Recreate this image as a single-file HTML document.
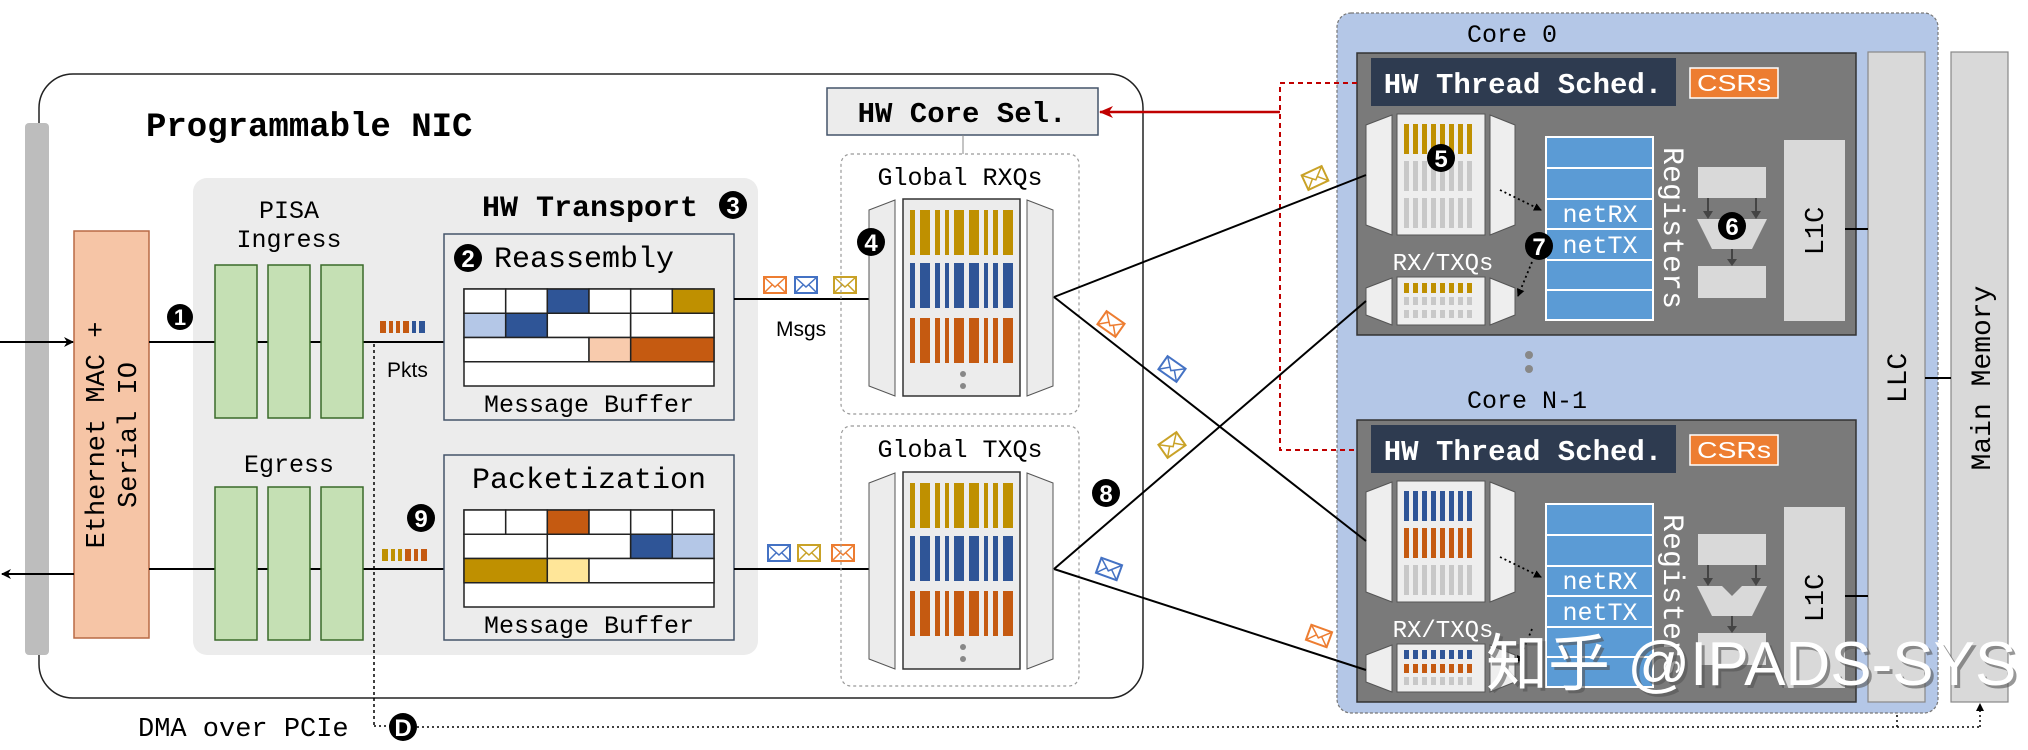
<!DOCTYPE html>
<html><head><meta charset="utf-8"><style>
html,body{margin:0;padding:0;background:#fff;}
svg{display:block;}
.m{font-family:"Liberation Mono",monospace;}
.s{font-family:"Liberation Sans",sans-serif;}
</style></head><body>
<svg width="2028" height="750" viewBox="0 0 2028 750" xmlns="http://www.w3.org/2000/svg">
<defs>
<marker id="ah" markerWidth="10" markerHeight="10" refX="9" refY="5" orient="auto" markerUnits="userSpaceOnUse"><path d="M0,0 L10,5 L0,10 L3,5 Z" fill="#000"/></marker>
<marker id="ar" markerWidth="14" markerHeight="12" refX="13" refY="6" orient="auto" markerUnits="userSpaceOnUse"><path d="M0,0 L14,6 L0,12 L4,6 Z" fill="#c00000"/></marker>
<marker id="as" markerWidth="8" markerHeight="8" refX="7" refY="4" orient="auto" markerUnits="userSpaceOnUse"><path d="M0,0 L8,4 L0,8 Z" fill="#000"/></marker>
<g id="env"><rect x="-11" y="-8" width="22" height="16" fill="#fff" stroke-width="2"/><path d="M-11,-8 L0,2 L11,-8 M-11,8 L-3,0 M11,8 L3,0" fill="none" stroke-width="1.5"/></g>
<g id="stripes"><rect x="910" y="0" width="5" height="45"/><rect x="920" y="0" width="10" height="45"/><rect x="935" y="0" width="5" height="45"/><rect x="945" y="0" width="4" height="45"/><rect x="954" y="0" width="10" height="45"/><rect x="969" y="0" width="10" height="45"/><rect x="984" y="0" width="4" height="45"/><rect x="993" y="0" width="5" height="45"/><rect x="1003" y="0" width="10" height="45"/></g>
<g id="gq">
<path d="M869,210 L895,200 L895,396 L869,386 Z" fill="#ececec" stroke="#555" stroke-width="1"/>
<path d="M1027,200 L1053,210 L1053,386 L1027,396 Z" fill="#ececec" stroke="#555" stroke-width="1"/>
<rect x="903" y="199" width="117" height="197" fill="#ececec" stroke="#333" stroke-width="1.5"/>
</g>
<pattern id="pg" width="9" height="10" patternUnits="userSpaceOnUse"><rect width="5" height="10" fill="#bf9000"/></pattern>
<pattern id="pb" width="9" height="10" patternUnits="userSpaceOnUse"><rect width="5" height="10" fill="#2f5597"/></pattern>
<pattern id="po" width="9" height="10" patternUnits="userSpaceOnUse"><rect width="5" height="10" fill="#c55a11"/></pattern>
<pattern id="pc" width="9" height="10" patternUnits="userSpaceOnUse"><rect width="5" height="10" fill="#c8c8c8"/></pattern>
</defs>

<!-- NIC outer -->
<rect x="39" y="74" width="1104" height="624" rx="34" fill="#fff" stroke="#222" stroke-width="1.5"/>
<rect x="25" y="123" width="24" height="532" rx="4" fill="#bdbdbd"/>
<text x="146" y="136" class="m" font-size="34" font-weight="bold">Programmable NIC</text>

<rect x="193" y="178" width="565" height="477" rx="14" fill="#ececec"/>
<text x="482" y="216" class="m" font-size="30" font-weight="bold">HW Transport</text>
<circle cx="733" cy="205" r="14" fill="#000"/><text x="733" y="214" class="s" font-size="24" font-weight="bold" fill="#fff" text-anchor="middle">3</text>

<rect x="74" y="231" width="75" height="407" fill="#f6c5a6" stroke="#b86a45" stroke-width="1.5"/>
<text transform="translate(104,435) rotate(-90)" class="m" font-size="27" text-anchor="middle">Ethernet MAC +</text>
<text transform="translate(136,435) rotate(-90)" class="m" font-size="27" text-anchor="middle">Serial IO</text>
<line x1="0" y1="342" x2="73" y2="342" stroke="#000" stroke-width="2" marker-end="url(#ah)"/>
<line x1="74" y1="574" x2="2" y2="574" stroke="#000" stroke-width="2" marker-end="url(#ah)"/>
<circle cx="180" cy="317" r="13" fill="#000"/><text x="180" y="325" class="s" font-size="22" font-weight="bold" fill="#fff" text-anchor="middle">1</text>

<line x1="149" y1="342" x2="444" y2="342" stroke="#000" stroke-width="2"/>
<line x1="149" y1="569" x2="444" y2="569" stroke="#000" stroke-width="2"/>

<text x="289" y="218" class="m" font-size="25" text-anchor="middle">PISA</text>
<text x="289" y="247" class="m" font-size="25" text-anchor="middle">Ingress</text>
<text x="289" y="472" class="m" font-size="25" text-anchor="middle">Egress</text>
<g fill="#c5e0b4" stroke="#3a6a2a" stroke-width="1.5">
<rect x="215" y="265" width="42" height="153"/><rect x="268" y="265" width="42" height="153"/><rect x="321" y="265" width="42" height="153"/>
<rect x="215" y="487" width="42" height="153"/><rect x="268" y="487" width="42" height="153"/><rect x="321" y="487" width="42" height="153"/>
</g>

<g><rect x="380" y="321" width="6" height="12" fill="#c55a11"/><rect x="389" y="321" width="4" height="12" fill="#c55a11"/><rect x="396" y="321" width="4" height="12" fill="#c55a11"/><rect x="403" y="321" width="6" height="12" fill="#c55a11"/><rect x="412" y="321" width="4" height="12" fill="#2f5597"/><rect x="419" y="321" width="6" height="12" fill="#2f5597"/></g>
<g><rect x="382" y="549" width="6" height="12" fill="#bf9000"/><rect x="391" y="549" width="4" height="12" fill="#bf9000"/><rect x="398" y="549" width="4" height="12" fill="#bf9000"/><rect x="405" y="549" width="6" height="12" fill="#c55a11"/><rect x="414" y="549" width="4" height="12" fill="#c55a11"/><rect x="421" y="549" width="6" height="12" fill="#c55a11"/></g>
<text x="387" y="377" class="s" font-size="21">Pkts</text>
<circle cx="421" cy="518" r="14" fill="#000"/><text x="421" y="527" class="s" font-size="24" font-weight="bold" fill="#fff" text-anchor="middle">9</text>

<line x1="374" y1="344" x2="374" y2="726" stroke="#000" stroke-width="1.5" stroke-dasharray="3,3"/>
<line x1="374" y1="726" x2="390" y2="726" stroke="#000" stroke-width="1.5" stroke-dasharray="2,3"/>
<text x="138" y="736" class="m" font-size="27">DMA over PCIe</text>
<circle cx="403" cy="727" r="14" fill="#000"/><text x="403" y="736" class="s" font-size="24" font-weight="bold" fill="#fff" text-anchor="middle">D</text>
<path d="M417,727 L1980,727" stroke="#000" stroke-width="1.5" stroke-dasharray="2,3" fill="none"/>
<line x1="1897" y1="727" x2="1897" y2="704" stroke="#000" stroke-width="1.5" stroke-dasharray="2,3" marker-end="url(#as)"/>
<line x1="1980" y1="727" x2="1980" y2="704" stroke="#000" stroke-width="1.5" stroke-dasharray="2,3" marker-end="url(#as)"/>

<rect x="444" y="234" width="290" height="186" fill="#ececec" stroke="#44546a" stroke-width="1.5"/>
<circle cx="468" cy="258" r="14" fill="#000"/><text x="468" y="267" class="s" font-size="24" font-weight="bold" fill="#fff" text-anchor="middle">2</text>
<text x="494" y="267" class="m" font-size="30">Reassembly</text>
<g stroke="#222" stroke-width="1.5">
<rect x="464" y="289" width="250" height="97" fill="#fff"/>
<rect x="464" y="289" width="41.7" height="24.25" fill="#fff"/><rect x="505.7" y="289" width="41.7" height="24.25" fill="#fff"/><rect x="547.3" y="289" width="41.7" height="24.25" fill="#2f5597"/><rect x="589" y="289" width="41.7" height="24.25" fill="#fff"/><rect x="630.7" y="289" width="41.7" height="24.25" fill="#fff"/><rect x="672.3" y="289" width="41.7" height="24.25" fill="#bf9000"/>
<rect x="464" y="313.25" width="41.7" height="24.25" fill="#b4c7e7"/><rect x="505.7" y="313.25" width="41.7" height="24.25" fill="#2f5597"/><rect x="547.3" y="313.25" width="83.3" height="24.25" fill="#fff"/><rect x="630.7" y="313.25" width="83.3" height="24.25" fill="#fff"/>
<rect x="464" y="337.5" width="125" height="24.25" fill="#fff"/><rect x="589" y="337.5" width="41.7" height="24.25" fill="#f8cbad"/><rect x="630.7" y="337.5" width="83.3" height="24.25" fill="#c55a11"/>
</g>
<text x="589" y="412" class="m" font-size="25" text-anchor="middle">Message Buffer</text>

<rect x="444" y="455" width="290" height="185" fill="#ececec" stroke="#44546a" stroke-width="1.5"/>
<text x="589" y="488" class="m" font-size="30" text-anchor="middle">Packetization</text>
<g stroke="#222" stroke-width="1.5">
<rect x="464" y="510" width="250" height="97" fill="#fff"/>
<rect x="464" y="510" width="41.7" height="24.25" fill="#fff"/><rect x="505.7" y="510" width="41.7" height="24.25" fill="#fff"/><rect x="547.3" y="510" width="41.7" height="24.25" fill="#c55a11"/><rect x="589" y="510" width="41.7" height="24.25" fill="#fff"/><rect x="630.7" y="510" width="41.7" height="24.25" fill="#fff"/><rect x="672.3" y="510" width="41.7" height="24.25" fill="#fff"/>
<rect x="464" y="534.25" width="83.3" height="24.25" fill="#fff"/><rect x="547.3" y="534.25" width="83.3" height="24.25" fill="#fff"/><rect x="630.7" y="534.25" width="41.7" height="24.25" fill="#2f5597"/><rect x="672.3" y="534.25" width="41.7" height="24.25" fill="#b4c7e7"/>
<rect x="464" y="558.5" width="83.3" height="24.25" fill="#bf9000"/><rect x="547.3" y="558.5" width="41.7" height="24.25" fill="#ffe699"/><rect x="589" y="558.5" width="125" height="24.25" fill="#fff"/>
</g>
<text x="589" y="633" class="m" font-size="25" text-anchor="middle">Message Buffer</text>

<line x1="734" y1="299" x2="870" y2="299" stroke="#000" stroke-width="2"/>
<line x1="734" y1="569" x2="870" y2="569" stroke="#000" stroke-width="2"/>
<use href="#env" x="775" y="285" stroke="#ed7d31"/><use href="#env" x="806" y="285" stroke="#4472c4"/><use href="#env" x="845" y="285" stroke="#c9a227"/>
<use href="#env" x="779" y="553" stroke="#4472c4"/><use href="#env" x="809" y="553" stroke="#c9a227"/><use href="#env" x="843" y="553" stroke="#ed7d31"/>
<text x="776" y="336" class="s" font-size="21">Msgs</text>

<rect x="827" y="88" width="271" height="47" fill="#ececec" stroke="#44546a" stroke-width="1.5"/>
<text x="962" y="122" class="m" font-size="29" font-weight="bold" text-anchor="middle">HW Core Sel.</text>
<line x1="963" y1="135" x2="963" y2="154" stroke="#888" stroke-width="1"/>

<rect x="841" y="154" width="238" height="260" rx="10" fill="none" stroke="#999" stroke-width="1.2" stroke-dasharray="3,3"/>
<rect x="841" y="426" width="238" height="260" rx="10" fill="none" stroke="#999" stroke-width="1.2" stroke-dasharray="3,3"/>
<text x="960" y="185" class="m" font-size="25" text-anchor="middle">Global RXQs</text>
<text x="960" y="457" class="m" font-size="25" text-anchor="middle">Global TXQs</text>
<use href="#gq"/>
<use href="#stripes" y="210" fill="#bf9000"/><use href="#stripes" y="263" fill="#2f5597"/><use href="#stripes" y="318" fill="#c55a11"/>
<circle cx="963" cy="374" r="3" fill="#888"/><circle cx="963" cy="386" r="3" fill="#888"/>
<use href="#gq" y="273"/>
<use href="#stripes" y="483" fill="#bf9000"/><use href="#stripes" y="536" fill="#2f5597"/><use href="#stripes" y="591" fill="#c55a11"/>
<circle cx="963" cy="647" r="3" fill="#888"/><circle cx="963" cy="659" r="3" fill="#888"/>
<circle cx="871" cy="242" r="14" fill="#000"/><text x="871" y="251" class="s" font-size="24" font-weight="bold" fill="#fff" text-anchor="middle">4</text>
<circle cx="1106" cy="493" r="14" fill="#000"/><text x="1106" y="502" class="s" font-size="24" font-weight="bold" fill="#fff" text-anchor="middle">8</text>

<rect x="1337" y="13" width="601" height="700" rx="14" fill="#b4c7e7" stroke="#777" stroke-width="1.2" stroke-dasharray="3,2"/>
<text x="1467" y="42" class="m" font-size="25">Core 0</text>
<text x="1467" y="408" class="m" font-size="25">Core N-1</text>
<circle cx="1529" cy="355" r="4" fill="#888"/><circle cx="1529" cy="369" r="4" fill="#888"/>

<rect x="1868" y="52" width="57" height="650" fill="#d9d9d9" stroke="#888" stroke-width="1.2"/>
<rect x="1951" y="52" width="57" height="650" fill="#d9d9d9" stroke="#888" stroke-width="1.2"/>
<text transform="translate(1906,378) rotate(-90)" class="m" font-size="28" text-anchor="middle">LLC</text>
<text transform="translate(1990,378) rotate(-90)" class="m" font-size="28" text-anchor="middle">Main Memory</text>
<line x1="1925" y1="378" x2="1951" y2="378" stroke="#000" stroke-width="2"/>

<g id="core">
<rect x="1357" y="53" width="499" height="282" fill="#7a7a7a" stroke="#333" stroke-width="1.5"/>
<rect x="1371" y="58" width="305" height="48" fill="#2e3b50"/>
<text x="1523" y="93" class="m" font-size="29" font-weight="bold" fill="#fff" text-anchor="middle">HW Thread Sched.</text>
<rect x="1690" y="68" width="88" height="30" fill="#ed7d31" stroke="#fff" stroke-width="1.5"/>
<text x="1734" y="91" class="s" font-size="23" fill="#fff" text-anchor="middle" textLength="74" lengthAdjust="spacingAndGlyphs">CSRs</text>
<path d="M1366,125 L1392,115 L1392,235 L1366,225 Z" fill="#eee" stroke="#555" stroke-width="1"/>
<rect x="1397" y="114" width="88" height="121" fill="#eee" stroke="#555" stroke-width="1"/>
<path d="M1490,115 L1515,125 L1515,225 L1490,235 Z" fill="#eee" stroke="#555" stroke-width="1"/>
<path d="M1366,288 L1392,278 L1392,325 L1366,315 Z" fill="#eee" stroke="#555" stroke-width="1"/>
<rect x="1397" y="277" width="88" height="48" fill="#eee" stroke="#555" stroke-width="1"/>
<path d="M1490,278 L1515,288 L1515,315 L1490,325 Z" fill="#eee" stroke="#555" stroke-width="1"/>
<text x="1443" y="270" class="m" font-size="24" fill="#fff" text-anchor="middle">RX/TXQs</text>
<g fill="#5b9bd5" stroke="#fff" stroke-width="2">
<rect x="1546" y="137" width="107" height="31"/><rect x="1546" y="168" width="107" height="31"/><rect x="1546" y="199" width="107" height="30"/><rect x="1546" y="229" width="107" height="31"/><rect x="1546" y="260" width="107" height="30"/><rect x="1546" y="290" width="107" height="30"/>
</g>
<text x="1600" y="222" class="m" font-size="25" fill="#fff" text-anchor="middle">netRX</text>
<text x="1600" y="253" class="m" font-size="25" fill="#fff" text-anchor="middle">netTX</text>
<text transform="translate(1664,228) rotate(90)" class="m" font-size="30" fill="#fff" text-anchor="middle">Registers</text>
<rect x="1698" y="167" width="68" height="31" fill="#d9d9d9"/>
<rect x="1698" y="266" width="68" height="32" fill="#d9d9d9"/>
<rect x="1784" y="140" width="61" height="181" fill="#d9d9d9"/>
<text transform="translate(1823,231) rotate(-90)" class="m" font-size="27" text-anchor="middle">L1C</text>
<line x1="1845" y1="229" x2="1868" y2="229" stroke="#000" stroke-width="2"/>
<line x1="1500" y1="190" x2="1541" y2="210" stroke="#000" stroke-width="1.8" stroke-dasharray="2,3" marker-end="url(#as)"/>
<line x1="1532" y1="262" x2="1518" y2="296" stroke="#000" stroke-width="1.8" stroke-dasharray="2,3" marker-end="url(#as)"/>
<path d="M1708,198 L1708,214 M1756,198 L1756,214 M1732,249 L1732,262" stroke="#444" stroke-width="2"/>
<path d="M1703,211 L1708,219 L1713,211 Z M1751,211 L1756,219 L1761,211 Z M1727,259 L1732,266 L1737,259 Z" fill="#444"/>
</g>
<use href="#core" y="367"/>

<!-- core0 -->
<path d="M1697,219 L1767,219 L1752,249 L1712,249 Z" fill="#d9d9d9"/>
<rect x="1404" y="124" width="72" height="30" fill="url(#pg)"/>
<rect x="1404" y="161" width="72" height="30" fill="url(#pc)"/>
<rect x="1404" y="198" width="72" height="30" fill="url(#pc)"/>
<rect x="1404" y="283" width="72" height="10" fill="url(#pg)"/>
<rect x="1404" y="297" width="72" height="8" fill="url(#pc)"/>
<rect x="1404" y="310" width="72" height="8" fill="url(#pc)"/>
<circle cx="1441" cy="158" r="14" fill="#000"/><text x="1441" y="167" class="s" font-size="24" font-weight="bold" fill="#fff" text-anchor="middle">5</text>
<circle cx="1732" cy="226" r="14" fill="#000"/><text x="1732" y="235" class="s" font-size="24" font-weight="bold" fill="#fff" text-anchor="middle">6</text>
<circle cx="1539" cy="246" r="14" fill="#000"/><text x="1539" y="255" class="s" font-size="24" font-weight="bold" fill="#fff" text-anchor="middle">7</text>

<!-- core N-1 -->
<path d="M1697,586 L1722,586 L1732,596 L1742,586 L1767,586 L1752,616 L1712,616 Z" fill="#d9d9d9"/>
<rect x="1404" y="491" width="72" height="30" fill="url(#pb)"/>
<rect x="1404" y="528" width="72" height="30" fill="url(#po)"/>
<rect x="1404" y="565" width="72" height="30" fill="url(#pc)"/>
<rect x="1404" y="650" width="72" height="9" fill="url(#pb)"/>
<rect x="1404" y="664" width="72" height="9" fill="url(#po)"/>
<rect x="1404" y="677" width="72" height="8" fill="url(#pc)"/>

<path d="M1357,83 L1280,83 L1280,450 L1357,450" fill="none" stroke="#c00000" stroke-width="2" stroke-dasharray="5,4"/>
<line x1="1280" y1="112" x2="1100" y2="112" stroke="#c00000" stroke-width="2.5" marker-end="url(#ar)"/>

<g stroke="#000" stroke-width="2">
<line x1="1054" y1="297" x2="1366" y2="175"/>
<line x1="1054" y1="297" x2="1366" y2="541"/>
<line x1="1054" y1="569" x2="1366" y2="301"/>
<line x1="1054" y1="569" x2="1366" y2="670"/>
</g>
<use href="#env" transform="translate(1315,178) rotate(-25)" stroke="#c9a227"/>
<use href="#env" transform="translate(1111,324) rotate(35)" stroke="#ed7d31"/>
<use href="#env" transform="translate(1172,369) rotate(35)" stroke="#4472c4"/>
<use href="#env" transform="translate(1172,445) rotate(-35)" stroke="#c9a227"/>
<use href="#env" transform="translate(1109,569) rotate(20)" stroke="#4472c4"/>
<use href="#env" transform="translate(1319,636) rotate(20)" stroke="#ed7d31"/>

<text x="1489" y="688" font-family="'Liberation Sans','Noto Sans CJK SC',sans-serif" font-size="62" fill="#555" opacity="0.6">知乎 @IPADS-SYS</text>
<text x="1486" y="685" font-family="'Liberation Sans','Noto Sans CJK SC',sans-serif" font-size="62" fill="#fff">知乎 @IPADS-SYS</text>
</svg>
</body></html>
